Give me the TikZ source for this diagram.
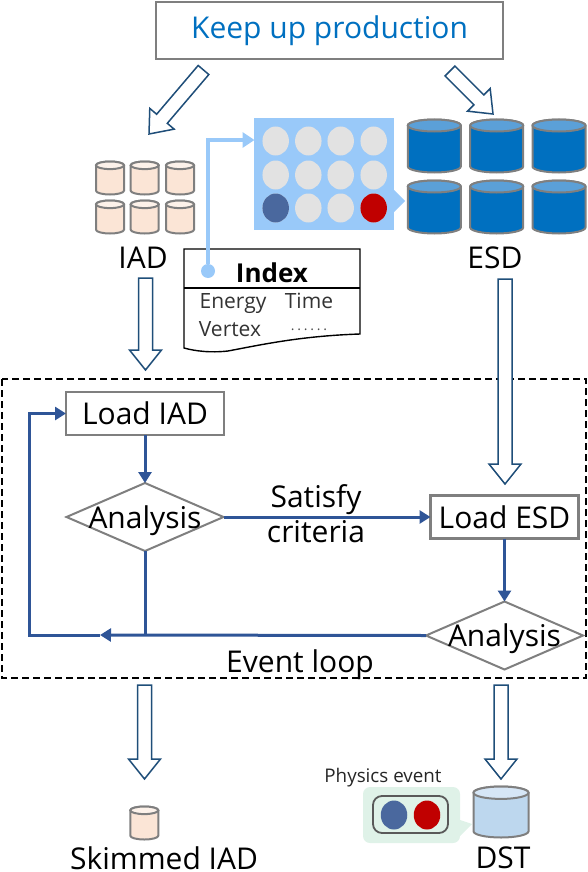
\documentclass[tikz,border=0pt]{standalone}
\usepackage{fontspec}
\setmainfont{Open Sans}
\usepackage{tikz}
\usepackage{xcolor}
\usetikzlibrary{arrows.meta, positioning, shapes, calc}
\definecolor{boxgray}{HTML}{7F7F7F}
\definecolor{titleblue}{HTML}{0070C0}
\definecolor{flowblue}{HTML}{2F5597}
\definecolor{shaftblue}{HTML}{1F4E79}
\definecolor{panelblue}{HTML}{99C9F9}
\definecolor{dotgray}{HTML}{E2E2E2}
\definecolor{dotblue}{HTML}{4A689E}
\definecolor{dotred}{HTML}{C00000}
\definecolor{iadfill}{HTML}{FBE5D6}
\definecolor{esdcap}{HTML}{5BA0D8}
\definecolor{dstfill}{HTML}{BDD7EE}
\definecolor{dstcap}{HTML}{D6E6F6}
\definecolor{eventgreen}{HTML}{DFF2E8}

\begin{document}
\begin{tikzpicture}[x=1pt, y=-1pt,
  block/.style={rectangle, draw=boxgray, line width=2.2pt, outer sep=0pt, minimum height=43pt, font=\fontsize{30}{34}\selectfont, align=center},
  decision/.style={diamond, draw=boxgray, line width=2pt, outer sep=0pt, inner sep=0pt, minimum width=157pt, minimum height=68pt, text depth=0pt, font=\fontsize{30}{34}\selectfont},
  label30/.style={inner sep=0pt, font=\fontsize{30}{34}\selectfont},
  label21/.style={inner sep=0pt, anchor=base, font=\fontsize{21}{24}\selectfont, text=black!80},
  flow/.style={-{Triangle[length=11pt,width=13pt]}, draw=flowblue, line width=3pt},
  bus/.style={draw=flowblue, line width=3pt},
  link/.style={-{Triangle[length=12pt,width=15pt]}, draw=panelblue, line width=3.6pt},
  dot/.style={ellipse, minimum width=26.5pt, minimum height=29pt, inner sep=0pt},
  canline/.style={draw=boxgray, line width=2pt},
  pics/can/.style n args={5}{code={
    \path[pic actions, fill=#4] (-#1,{#3-#2}) -- (-#1,{#2-#3}) arc[start angle=180, end angle=360, x radius=#1pt, y radius=#3pt] -- (#1,{#3-#2}) arc[start angle=0, end angle=180, x radius=#1pt, y radius=#3pt] -- cycle;
    \path[pic actions, fill=#5] (0,{#3-#2}) ellipse[x radius=#1pt, y radius=#3pt];
  }},
  pics/iadcan/.style={can={14}{16.5}{3.8}{iadfill}{iadfill!50}},
  pics/esdcan/.style={can={26.5}{26.5}{6}{titleblue}{esdcap}},
  hollow/.style={draw=shaftblue, line width=1.5pt, fill=white, to path={
    ($(\tikztostart)!7pt!90:(\tikztotarget)$)
    -- ($(\tikztotarget)!20pt!(\tikztostart)!7pt!90:(\tikztotarget)$)
    -- ($(\tikztotarget)!20pt!(\tikztostart)!16pt!90:(\tikztotarget)$)
    -- (\tikztotarget)
    -- ($(\tikztotarget)!20pt!(\tikztostart)!16pt!-90:(\tikztotarget)$)
    -- ($(\tikztotarget)!20pt!(\tikztostart)!7pt!-90:(\tikztotarget)$)
    -- ($(\tikztostart)!7pt!-90:(\tikztotarget)$) -- cycle}}]

\useasboundingbox (0,0) rectangle (588,872);

% top box
\node[block, minimum width=347pt, minimum height=57pt, text=titleblue] (keepup) at (329.5,30.5) {Keep up production};

% data sets
\foreach \col/\xx in {1/110,2/144.7,3/180}
  \foreach \row/\yy in {1/178,2/217}
    \pic[canline] (iad\col\row) at (\xx,\yy) {iadcan};
\foreach \col/\xx in {1/434.3,2/496.7,3/559}
  \foreach \row/\yy in {1/146,2/207}
    \pic[canline] (esd\col\row) at (\xx,\yy) {esdcan};
\node[label30] (iad) at (143,257.5) {IAD};
\node[label30] (esd) at (495,257.5) {ESD};

% index panel
\node[rectangle, fill=panelblue, minimum width=140pt, minimum height=112pt, outer sep=0pt] (panel) at (324,174) {};
\fill[panelblue] (panel.east |- 0,190) -- (405,201) -- (panel.east |- 0,212) -- cycle;
\foreach \col/\xx in {1/275.7,2/308.3,3/340.7,4/373.7}
  \foreach \row/\yy in {1/141,2/175,3/208}
    \node[dot, fill=dotgray] (ev\col\row) at (\xx,\yy) {};
\node[dot, fill=dotblue] (evblue) at (275.7,208) {};
\node[dot, fill=dotred] (evred) at (373.7,208) {};

% index document
\draw[line width=1.4pt] (184,249) -- (360,249) -- (360,334) .. controls (300,336) and (260,345) .. (228,351) .. controls (210,353) and (195,351) .. (184,348) -- cycle;
\draw[line width=1.4pt] (184,288) -- (360,288);
\node[anchor=base, inner sep=0pt, font=\bfseries\fontsize{26}{30}\selectfont] (index) at (272,282) {Index};
\node[label21] (energy) at (233,308) {Energy};
\node[label21] (time) at (309,308) {Time};
\node[label21] (vertex) at (230,336) {Vertex};
\node[label21, font=\fontsize{14}{16}\selectfont, text=black!70] (more) at (309,330) {\addfontfeature{LetterSpace=20}......};

\node[circle, fill=panelblue, minimum size=14pt, inner sep=0pt] (pin) at (208,271) {};
\coordinate (pintop) at (254.5,140);
\draw[link] (pin) |- (pintop);

% event loop
\draw[line width=1.2pt, dash pattern=on 7pt off 4pt] (2,379) rectangle (586,678);
\node[block, minimum width=158pt] (loadiad) at (145,413.5) {Load IAD};
\node[decision, below=48pt of loadiad] (ana1) {\makebox[0pt]{Analysis}};
\node[block, minimum width=148pt, right=207pt of ana1] (loadesd) {Load ESD};
\node[decision, below=63pt of loadesd] (ana2) {\makebox[0pt]{Analysis}};
\node[label30, anchor=base] (satisfy) at (316,507) {Satisfy};
\node[label30, anchor=base] (criteria) at (316,542) {criteria};
\node[label30, anchor=base] (evloop) at (300,672) {Event loop};

\draw[flow] (loadiad) -- (ana1);
\draw[flow] (ana1) -- (loadesd);
\draw[flow] (loadesd) -- (ana2);
\coordinate (looptip) at (100,635);
\coordinate (loopturn) at (29,635);
\draw[bus] (ana1.south) -- (ana1.south |- ana2.west);
\draw[flow] (ana2.west) -- (looptip);
\draw[flow] (looptip) -- (loopturn) |- (loadiad.west);

% output
\pic[canline] (skim) at (144.3,823) {iadcan};
\node[label30] (skimlabel) at (164,858) {Skimmed IAD};
\pic[canline] (dst) at (501,812) {can={27.5}{25.5}{6.2}{dstfill}{dstcap}};
\node[label30] (dstlabel) at (503,858) {DST};
\node[inner sep=0pt, font=\fontsize{18.8}{22}\selectfont, text=black!85] (physics) at (383,778) {Physics event};
\node[rectangle, rounded corners=7pt, fill=eventgreen, minimum width=97pt, minimum height=56pt] (bubble) at (411.5,815) {};
\fill[eventgreen] (bubble.east |- 0,820) -- (472,824) -- (bubble.east |- 0,836) -- cycle;
\node[rectangle, rounded corners=9pt, draw=black!65, line width=1.8pt, minimum width=75pt, minimum height=37pt] (pair) at (410.5,814.5) {};
\node[dot, fill=dotblue] (pairblue) at (394,815) {};
\node[dot, fill=dotred] (pairred) at (427,815) {};

% hollow arrows
\coordinate (a1s) at (203.5,70);
\coordinate (a1e) at (149,134);
\coordinate (a2s) at (450,71);
\coordinate (a2e) at (493,114);
\coordinate (a3s) at (145.5,278);
\coordinate (a3e) at (145.5,370);
\coordinate (a4s) at (505,279);
\coordinate (a4e) at (505,484);
\coordinate (a5s) at (144.5,685);
\coordinate (a5e) at (144.5,779);
\coordinate (a6s) at (501,685);
\coordinate (a6e) at (501,779);
\foreach \aa in {1,...,6}
  \draw[hollow] (a\aa s) to (a\aa e);
\end{tikzpicture}
\end{document}
